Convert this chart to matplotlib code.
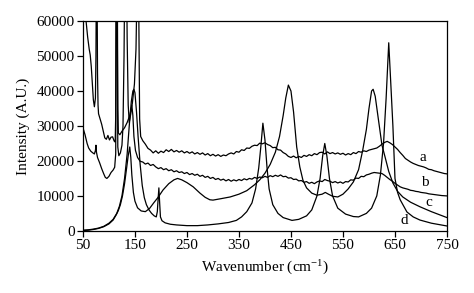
import matplotlib
matplotlib.use("Agg")
import matplotlib.pyplot as plt

plt.rcParams['font.family'] = ['Liberation Serif', 'DejaVu Serif']
plt.rcParams['mathtext.fontset'] = 'custom'
plt.rcParams['mathtext.rm'] = 'Liberation Serif'

# (wavenumber, intensity); off-scale peaks go above 60000
curve_a = [(50, 75000), (53, 66000), (56, 60000), (59, 55500), (62, 52000), (64, 50300),
           (66, 47000), (68, 42000), (70, 37500), (72, 35500), (74, 38000), (75, 50000),
           (76, 80000), (77, 75000), (78, 45000), (79, 36000), (80, 33500), (83, 32000),
           (86, 30500), (89, 28500), (92, 26600), (95, 26200), (98, 27300), (101, 26000),
           (104, 26800), (107, 26900), (110, 25700), (112, 25400), (113, 33000), (114, 75000),
           (115, 95000), (116, 75000), (117, 35000), (118, 28000), (121, 27500), (125, 28500),
           (130, 29500), (135, 31000), (140, 33000), (145, 36500), (149, 42000), (152, 52000),
           (154, 70000), (156, 90000), (158, 50000), (159, 32000), (161, 27000), (165, 25800),
           (170, 24800), (175, 23600), (180, 23100), (185, 22300), (190, 22900), (195, 22200),
           (200, 22800), (205, 22400), (210, 23200), (215, 22700), (220, 23300), (225, 22600),
           (230, 23000), (235, 22500), (240, 22900), (245, 22300), (250, 22700), (255, 22200),
           (260, 22600), (265, 22000), (270, 22400), (275, 21900), (280, 22300), (285, 21700),
           (290, 22100), (295, 21500), (300, 21900), (305, 21400), (310, 21800), (315, 21300),
           (320, 21700), (325, 21500), (330, 22000), (335, 22300), (340, 22000), (345, 22700),
           (350, 22500), (355, 23200), (360, 23000), (365, 23700), (370, 23600), (375, 24200),
           (380, 24500), (385, 24400), (390, 25100), (395, 24900), (400, 25200), (405, 24700),
           (410, 24400), (415, 23800), (420, 23900), (425, 23200), (430, 23100), (435, 22400),
           (440, 22000), (445, 21300), (450, 21000), (455, 21400), (460, 20900), (465, 21300),
           (470, 21000), (475, 21600), (480, 21300), (485, 21800), (490, 21500), (495, 22100),
           (500, 21800), (505, 22400), (510, 22500), (515, 22000), (520, 22600), (525, 22100),
           (530, 22400), (535, 22000), (540, 22300), (545, 21900), (550, 22200), (555, 21700),
           (560, 22100), (565, 21800), (570, 22400), (575, 22100), (580, 22700), (585, 22500),
           (590, 22900), (595, 22700), (600, 23100), (605, 23300), (610, 23500), (615, 23700),
           (620, 24200), (625, 24800), (630, 25300), (635, 25600), (640, 25200), (645, 24700),
           (650, 24000), (655, 23300), (660, 22400), (665, 21600), (670, 20700), (675, 20200),
           (680, 19700), (685, 19300), (690, 19000), (695, 18700), (700, 18500), (705, 18300),
           (710, 18000), (715, 17600), (720, 17500), (725, 17200), (730, 17000), (735, 16800),
           (740, 16600), (745, 16400), (750, 16300)]

curve_b = [(50, 29500), (54, 27500), (58, 25000), (61, 23700), (65, 22800), (69, 22300),
           (72, 22000), (74, 23000), (75, 24500), (76, 22500), (78, 21000), (82, 19500),
           (86, 17800), (90, 16300), (93, 15300), (96, 15000), (100, 15600), (104, 16700),
           (108, 17400), (111, 18200), (113, 22000), (114, 70000), (115, 90000), (116, 60000),
           (117, 24000), (119, 21500), (122, 22300), (125, 24500), (127, 30000), (129, 50000),
           (131, 85000), (133, 90000), (135, 55000), (137, 36000), (139, 31000), (142, 33500),
           (144, 36000), (146, 33000), (148, 27000), (151, 23000), (155, 21000), (160, 19900),
           (165, 19700), (170, 19100), (175, 19400), (180, 18700), (185, 19000), (190, 18300),
           (195, 17800), (200, 18100), (205, 17500), (210, 17800), (215, 17200), (220, 17500),
           (225, 16900), (230, 17200), (235, 16700), (240, 16900), (245, 16400), (250, 16700),
           (255, 16100), (260, 16400), (265, 15900), (270, 16200), (275, 15600), (280, 15900),
           (285, 15300), (290, 15600), (295, 15000), (300, 15300), (305, 14700), (310, 15000),
           (315, 14500), (320, 14800), (325, 14300), (330, 14700), (335, 14200), (340, 14600),
           (345, 14300), (350, 14700), (355, 14400), (360, 14900), (365, 14600), (370, 15000),
           (375, 14800), (380, 15300), (385, 15000), (390, 15400), (395, 15200), (400, 15600),
           (405, 15300), (410, 15800), (415, 15500), (420, 15900), (425, 15600), (430, 16000),
           (435, 15500), (440, 15600), (445, 15100), (450, 15200), (455, 14700), (460, 14800),
           (465, 14300), (470, 14400), (475, 13900), (480, 14100), (485, 13600), (490, 13900),
           (495, 13500), (500, 14000), (505, 14300), (510, 14100), (515, 14700), (520, 14400),
           (525, 14200), (530, 13800), (535, 14100), (540, 13700), (545, 14000), (550, 13600),
           (555, 14100), (560, 14000), (565, 14600), (570, 14500), (575, 15100), (580, 15000),
           (585, 15600), (590, 15500), (595, 16000), (600, 16200), (605, 16500), (610, 16700),
           (615, 16600), (620, 16500), (625, 16400), (630, 15900), (635, 15300), (640, 14700),
           (645, 14200), (650, 13600), (655, 13100), (660, 12600), (665, 12300), (670, 12100),
           (675, 11900), (680, 11600), (685, 11500), (690, 11300), (695, 11200), (700, 11000),
           (705, 10900), (710, 10800), (715, 10600), (720, 10500), (725, 10400), (730, 10300),
           (735, 10200), (740, 10100), (745, 10050), (750, 10000)]

curve_c = [(50, 100), (60, 200), (70, 400), (80, 700), (90, 1200), (100, 2000), (108, 3100),
           (114, 4600), (118, 5800), (122, 7500), (126, 10000), (130, 13500), (134, 18000),
           (137, 21500), (140, 24000), (142, 21000), (144, 16000), (147, 11000), (150, 8500),
           (155, 6600), (162, 5700), (170, 5500), (178, 6400), (186, 8000), (194, 9500),
           (204, 11700), (215, 13500), (225, 14600), (232, 15000), (240, 14600), (250, 13800),
           (262, 12600), (275, 10800), (285, 9600), (294, 8900), (300, 8800), (315, 9200),
           (333, 9700), (350, 10500), (365, 11500), (380, 13200), (390, 14600), (400, 16500),
           (410, 19000), (420, 22500), (428, 27000), (435, 33000), (440, 38000), (445, 41700),
           (450, 40000), (455, 34000), (461, 24000), (467, 18300), (473, 14500), (480, 12300),
           (490, 10800), (500, 10200), (510, 10500), (516, 11000), (522, 10500), (530, 9900),
           (540, 9700), (550, 10500), (560, 12000), (570, 14000), (580, 17500), (588, 23100),
           (595, 29000), (600, 35000), (605, 40000), (608, 40500), (612, 38500), (618, 32000),
           (625, 24500), (631, 21100), (638, 17000), (646, 13700), (655, 11300), (665, 9700),
           (680, 8200), (698, 6900), (720, 5500), (750, 3800)]

curve_d = [(50, 200), (60, 300), (70, 500), (80, 800), (90, 1300), (100, 2200), (108, 3300),
           (115, 5000), (120, 7000), (125, 10000), (130, 15000), (135, 22000), (139, 30000),
           (143, 37000), (146, 40000), (148, 40500), (150, 39500), (153, 34000), (156, 27000),
           (160, 19000), (164, 13000), (168, 9500), (172, 7500), (177, 6000), (182, 5000),
           (187, 4300), (191, 4000), (193, 5500), (194.5, 9000), (196, 12300), (197.5, 8000),
           (199, 4000), (202, 2900), (208, 2300), (218, 1900), (230, 1700), (250, 1500),
           (270, 1500), (290, 1700), (310, 2000), (330, 2400), (345, 3000), (355, 4000),
           (365, 5500), (375, 8000), (382, 12000), (388, 18000), (392, 24000), (396, 30800),
           (400, 26000), (404, 18000), (408, 12000), (415, 7500), (425, 5000), (435, 3800),
           (452, 3000), (465, 3300), (480, 4300), (490, 6000), (500, 10000), (506, 15000),
           (511, 21500), (515, 25000), (519, 21500), (524, 15000), (530, 10000), (540, 6500),
           (555, 4800), (570, 4100), (580, 4000), (595, 5000), (605, 6500), (615, 10000),
           (622, 16000), (628, 25000), (633, 38000), (638, 53800), (642, 42000), (646, 30000),
           (650, 15000), (655, 11000), (660, 8900), (673, 5400), (685, 4000), (698, 3100),
           (720, 2200), (750, 1400)]

curves = {'a': curve_a, 'b': curve_b, 'c': curve_c, 'd': curve_d}
label_pos = {'a': (704, 21100), 'b': (708, 13700), 'c': (715, 8000), 'd': (667, 3100)}

fig = plt.figure(figsize=(4.74, 2.93), dpi=100)
ax = fig.add_axes([0.175, 0.212, 0.768, 0.716])

for name, pts in curves.items():
    x, y = zip(*pts)
    ax.plot(x, y, color='black', lw=0.9)
    lx, ly = label_pos[name]
    ax.text(lx, ly, name, fontsize=11, ha='center', va='center')

ax.set_xlim(50, 750)
ax.set_ylim(0, 60000)
ax.set_xticks(range(50, 751, 100))
ax.set_yticks(range(0, 60001, 10000))
ax.tick_params(direction='out', length=4, width=0.9, labelsize=11, pad=2)
for s in ax.spines.values():
    s.set_linewidth(0.9)

ax.set_xlabel('Wavenumber (cm$\\mathregular{^{-1}}$)', fontsize=11, labelpad=5)
ax.set_ylabel('Intensity (A.U.)', fontsize=11, labelpad=5)

fig.savefig('out.png', dpi=100)
